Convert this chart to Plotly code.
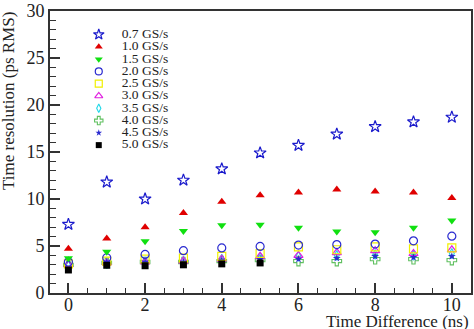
import plotly.graph_objects as go

# ---- data ----
x_vals = [0, 1, 2, 3, 4, 5, 6, 7, 8, 9, 10]
labels = ["0.7 GS/s", "1.0 GS/s", "1.5 GS/s", "2.0 GS/s", "2.5 GS/s",
          "3.0 GS/s", "3.5 GS/s", "4.0 GS/s", "4.5 GS/s", "5.0 GS/s"]
s07 = [7.3, 11.8, 10.0, 12.0, 13.2, 14.9, 15.7, 16.9, 17.7, 18.2, 18.7]
s10 = [4.7, 5.8, 7.0, 8.5, 9.7, 10.4, 10.7, 11.0, 10.8, 10.7, 10.1]
s15 = [3.7, 4.4, 5.5, 6.6, 7.2, 7.25, 6.95, 6.55, 6.45, 6.95, 7.7]
s20 = [3.3, 3.75, 4.1, 4.5, 4.8, 4.95, 5.1, 5.15, 5.2, 5.55, 6.05]
s25 = [3.1, 3.4, 3.6, 3.7, 3.9, 4.2, 4.9, 4.6, 4.9, 4.7, 4.8]
s30 = [3.0, 3.2, 3.3, 3.4, 3.6, 3.9, 4.0, 4.3, 4.5, 4.2, 4.6]
s35 = [2.9, 3.1, 3.3, 3.4, 3.6, 3.8, 3.9, 4.0, 4.1, 4.0, 4.2]
s40 = [3.0, 3.2, 3.3, 3.3, 3.4, 3.5, 3.4, 3.4, 3.6, 3.6, 3.5]
s45 = [3.5, 3.3, 3.3, 3.3, 3.5, 3.6, 3.6, 3.7, 3.9, 3.8, 3.9]
x50 = [0, 1, 2, 3, 4, 5]
s50 = [2.45, 2.95, 2.9, 3.0, 3.1, 3.2]
x_ticks = [0, 2, 4, 6, 8, 10]
y_ticks = [0, 5, 10, 15, 20, 25, 30]

# ---- styles ----
FONT = "Liberation Serif"
styles = [
    dict(symbol="star-open", color="#1a1acc", size=9, lw=1.2),
    dict(symbol="triangle-up", color="#e00000", size=8, lw=0),
    dict(symbol="triangle-down", color="#10e010", size=8, lw=0),
    dict(symbol="circle-open", color="#2a2ad0", size=8, lw=1.2),
    dict(symbol="square-open", color="#f0f000", size=8, lw=1.2),
    dict(symbol="triangle-up-open", color="#e020e0", size=8, lw=1.2),
    dict(symbol="diamond-tall-open", color="#20d8e8", size=7, lw=1.1),
    dict(symbol="cross-open", color="#60c060", size=8, lw=1.1),
    dict(symbol="star", color="#2a2ad0", size=6, lw=0),
    dict(symbol="square", color="#000000", size=7, lw=0),
]
series = [(x_vals, s07), (x_vals, s10), (x_vals, s15), (x_vals, s20), (x_vals, s25),
          (x_vals, s30), (x_vals, s35), (x_vals, s40), (x_vals, s45), (x50, s50)]

fig = go.Figure()
order = [7, 6, 5, 8, 4, 3, 9, 2, 1, 0]
for i in order:
    xs, ys = series[i]
    st = styles[i]
    fig.add_trace(go.Scatter(
        x=xs, y=ys, mode="markers", name=labels[i], showlegend=False,
        marker=dict(symbol=st["symbol"], color=st["color"], size=st["size"],
                    line=dict(color=st["color"], width=st["lw"])),
    ))

# ---- compact legend drawn on hidden overlay axes (row index based) ----
rows = list(range(len(labels)))
for i in rows:
    st = styles[i]
    fig.add_trace(go.Scatter(
        x=[49], y=[i], mode="markers", xaxis="x2", yaxis="y2", showlegend=False,
        hoverinfo="skip",
        marker=dict(symbol=st["symbol"], color=st["color"], size=st["size"] - 1,
                    line=dict(color=st["color"], width=st["lw"])),
    ))
fig.add_trace(go.Scatter(
    x=[72] * len(labels), y=rows, mode="text", text=labels, textposition="middle right",
    xaxis="x2", yaxis="y2", showlegend=False, hoverinfo="skip",
    textfont=dict(family=FONT, size=13.5, color="#222222"),
))

axis_col = "#333333"
fig.update_layout(
    width=474, height=329,
    margin=dict(l=50, r=1, t=6, b=36),
    paper_bgcolor="white", plot_bgcolor="white",
    font=dict(family=FONT, size=18, color="#222222"),
    showlegend=False,
    xaxis=dict(range=[-0.48, 10.5], tickvals=x_ticks, ticks="inside", ticklen=10,
               tickwidth=1.5, tickcolor=axis_col, showgrid=False, zeroline=False,
               showline=True, linewidth=2, linecolor=axis_col, mirror=True,
               ticklabelstandoff=-6, ticklabeloverflow="allow",
               minor=dict(dtick=0.5, tick0=0, ticks="inside", ticklen=5,
                          tickwidth=1.2, tickcolor=axis_col, showgrid=False),
               tickfont=dict(family=FONT, size=18, color="#222222")),
    yaxis=dict(range=[0, 30], tickvals=y_ticks, ticks="inside", ticklen=10,
               tickwidth=1.5, tickcolor=axis_col, showgrid=False, zeroline=False,
               showline=True, linewidth=2, linecolor=axis_col, mirror=True,
               ticklabeloverflow="allow",
               minor=dict(dtick=1, tick0=0, ticks="inside", ticklen=6,
                          tickwidth=1.2, tickcolor=axis_col, showgrid=False),
               tickfont=dict(family=FONT, size=18, color="#222222")),
    xaxis2=dict(overlaying="x", range=[0, 423], visible=False, fixedrange=True),
    yaxis2=dict(overlaying="y", range=[21.04, -1.92], visible=False, fixedrange=True),
    annotations=[
        dict(text="Time Difference (ns)", xref="paper", yref="paper", x=1.0, y=-0.1,
             xanchor="right", yanchor="middle", showarrow=False,
             font=dict(family=FONT, size=17, color="#222222")),
        dict(text="Time resolution (ps RMS)", xref="paper", yref="paper", x=-0.097,
             y=1.004, xanchor="center", yanchor="top", textangle=-90, showarrow=False,
             font=dict(family=FONT, size=17, color="#222222")),
    ],
)

fig.write_html("out.html")
